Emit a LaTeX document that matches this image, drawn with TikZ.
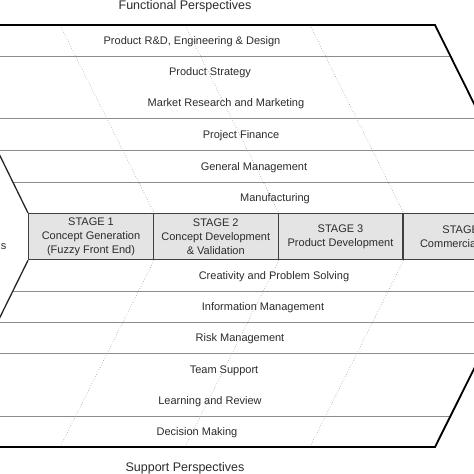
\documentclass[tikz,border=0pt]{standalone}
\usepackage{fontspec}
\setmainfont{Liberation Sans}
\usetikzlibrary{calc}
\definecolor{txt}{HTML}{2B2B2B}
\definecolor{rowgray}{HTML}{8C8C8C}
\definecolor{boxfill}{HTML}{E4E4E4}
\definecolor{dotgray}{HTML}{9A9A9A}
\begin{document}
\begin{tikzpicture}[x=1pt,y=-1pt,
  rowline/.style={draw=rowgray, line width=0.9pt},
  outline/.style={draw=black, line width=1.8pt, line join=miter},
  chevline/.style={draw=black!85, line width=1.3pt},
  stageline/.style={draw=dotgray, line width=0.6pt, dotted},
  rowtext/.style={font=\fontsize{11}{13}\selectfont, text=txt, inner sep=0pt, anchor=base},
  stagebox/.style={draw=black!75, line width=1.3pt, fill=boxfill, minimum width=124.75pt, minimum height=46pt, inner sep=0pt, align=center, font=\fontsize{11}{14}\selectfont, text=txt, anchor=north west},
  titletext/.style={font=\fontsize{12.5}{15}\selectfont, text=txt, inner sep=0pt, anchor=base}
]
\useasboundingbox (0,0) rectangle (474,474);
\clip (0,0) rectangle (474,474);

% free ends of the slanted stage lines
\coordinate (tL) at (-64,25);
\coordinate (t1) at (60,25);
\coordinate (t2) at (185,25);
\coordinate (t3) at (310,25);
\coordinate (tR) at (435,25);
\coordinate (bL) at (-64,447);
\coordinate (b1) at (60,447);
\coordinate (b2) at (185,447);
\coordinate (b3) at (310,447);
\coordinate (bR) at (435,447);

% row separators (functional side)
\draw[rowline] (-48.8,56) -- (450.2,56);
\draw[rowline] (-18.5,118) -- (480.5,118);
\draw[rowline] (-2.8,150) -- (496.2,150);
\draw[rowline] (12.8,182) -- (511.8,182);
% row separators (support side)
\draw[rowline] (12.3,291) -- (511.3,291);
\draw[rowline] (-2.8,322) -- (496.2,322);
\draw[rowline] (-18,353) -- (481,353);
\draw[rowline] (-48.8,416) -- (450.2,416);

% stage boxes
\node[stagebox] (s1) at (28,213) {STAGE 1\\Concept Generation\\(Fuzzy Front End)};
\node[stagebox] (s2) at (152.75,213) {STAGE 2\\Concept Development\\\& Validation};
\node[stagebox] (s3) at (277.5,213) {STAGE 3\\Product Development};
\node[stagebox] (s4) at (402.25,213) {STAGE 4\\Commercialization};

% dotted stage boundaries
\draw[stageline] (t1) -- (s1.north east);
\draw[stageline] (t2) -- (s2.north east);
\draw[stageline] (t3) -- (s3.north east);
\draw[stageline] (s1.south east) -- (b1);
\draw[stageline] (s2.south east) -- (b2);
\draw[stageline] (s3.south east) -- (b3);

% outer arrow outline
\draw[outline] (tL) -- (tR) -- (s4.north east);
\draw[outline] (bL) -- (bR) -- (s4.south east);
% left notch
\draw[chevline] (tL) -- (s1.north west);
\draw[chevline] (s1.south west) -- (bL);

% titles
\node[titletext] (ftitle) at (185,9.5) {Functional Perspectives};
\node[titletext] (stitle) at (185,471) {Support Perspectives};

% functional rows
\node[rowtext] (f1) at (192,44.5) {Product R\&D, Engineering \& Design};
\node[rowtext] (f2) at (210,75.5) {Product Strategy};
\node[rowtext] (f3) at (226,106.5) {Market Research and Marketing};
\node[rowtext] (f4) at (241,138) {Project Finance};
\node[rowtext] (f5) at (254,170) {General Management};
\node[rowtext] (f6) at (275,201.5) {Manufacturing};

% support rows
\node[rowtext] (p1) at (274,279) {Creativity and Problem Solving};
\node[rowtext] (p2) at (263,310.5) {Information Management};
\node[rowtext] (p3) at (240,341.5) {Risk Management};
\node[rowtext] (p4) at (224,373) {Team Support};
\node[rowtext] (p5) at (210,404.5) {Learning and Review};
\node[rowtext] (p6) at (197,435.5) {Decision Making};

% left label fragment
\node[rowtext, anchor=base east] (slabel) at (6.5,249) {s};
\end{tikzpicture}
\end{document}
